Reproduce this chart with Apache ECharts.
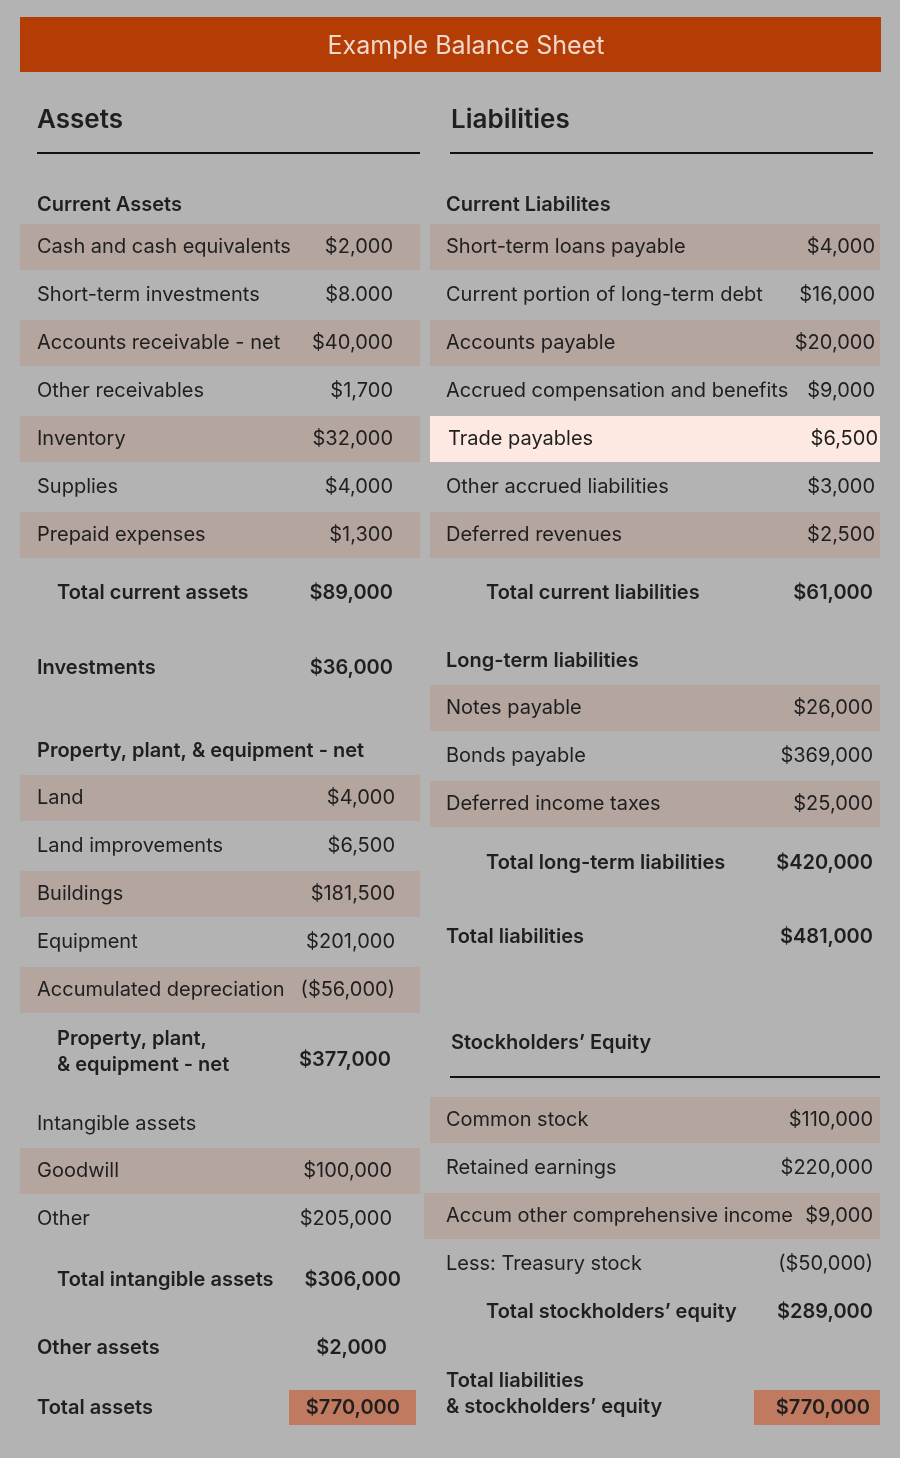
<!DOCTYPE html>
<html><head><meta charset="utf-8">
<script src="https://cdn.jsdelivr.net/npm/echarts@6/dist/echarts.min.js"></script>
<style>html,body{margin:0;background:#b3b3b3}#c{width:900px;height:1458px}</style>
</head><body><div id="c"></div>
<script>
const title = "Example Balance Sheet";
const currentAssetLabels = ["Cash and cash equivalents","Short-term investments","Accounts receivable - net","Other receivables","Inventory","Supplies","Prepaid expenses"];
const currentAssetValues = ["$2,000","$8.000","$40,000","$1,700","$32,000","$4,000","$1,300"];
const ppeLabels = ["Land","Land improvements","Buildings","Equipment","Accumulated depreciation"];
const ppeValues = ["$4,000","$6,500","$181,500","$201,000","($56,000)"];
const intangibleLabels = ["Goodwill","Other"];
const intangibleValues = ["$100,000","$205,000"];
const currentLiabLabels = ["Short-term loans payable","Current portion of long-term debt","Accounts payable","Accrued compensation and benefits","Trade payables","Other accrued liabilities","Deferred revenues"];
const currentLiabValues = ["$4,000","$16,000","$20,000","$9,000","$6,500","$3,000","$2,500"];
const longLiabLabels = ["Notes payable","Bonds payable","Deferred income taxes"];
const longLiabValues = ["$26,000","$369,000","$25,000"];
const equityLabels = ["Common stock","Retained earnings","Accum other comprehensive income","Less: Treasury stock"];
const equityValues = ["$110,000","$220,000","$9,000","($50,000)"];

const F = "Inter, 'Noto Sans', sans-serif";
const TXT = "#1f1f1f", STRIPE = "#b4a59f", BOX = "#bf7a5f";
const g = [];
function rect(x,y,w,h,fill){g.push({type:'rect',shape:{x,y,width:w,height:h},style:{fill}});}
function line(x1,x2,y){g.push({type:'line',shape:{x1,y1:y,x2,y2:y},style:{stroke:'#111',lineWidth:2}});}
function text(s,x,y,o={}){g.push({type:'text',x,y,style:{text:s,fill:o.fill||TXT,font:(o.bold?'600 ':'400 ')+(o.size||20)+'px '+F,textAlign:o.align||'left',textVerticalAlign:'middle',lineHeight:o.lh||26}});}
function rows(labels,values,y0,x0,x1,tx,vx,hl){
  labels.forEach((l,i)=>{
    const y=y0+i*48;
    if(hl&&hl[i]) rect(hl[i][0],y-23,hl[i][1]-hl[i][0],46,hl[i][2]);
    else if(i%2===0) rect(x0,y-23,x1-x0,46,STRIPE);
    text(l,tx+(hl&&hl[i]&&hl[i][3]||0),y);
    text(values[i],vx+(hl&&hl[i]&&hl[i][4]||0),y,{align:'right'});
  });
}
// header
rect(20,17,861,55,'#b43d05');
text(title,466,46,{fill:'#f2d8cc',size:25,align:'center'});
// Assets
text("Assets",37,120,{bold:true,size:26});line(37,420,153);
text("Current Assets",37,205,{bold:true});
rows(currentAssetLabels,currentAssetValues,247,20,420,37,393);
text("Total current assets",57,593,{bold:true});text("$89,000",393,593,{bold:true,align:'right'});
text("Investments",37,668,{bold:true});text("$36,000",393,668,{bold:true,align:'right'});
text("Property, plant, & equipment - net",37,751,{bold:true});
rows(ppeLabels,ppeValues,798,20,420,37,395);
text("Property, plant,\n& equipment - net",57,1052,{bold:true});text("$377,000",391,1060,{bold:true,align:'right'});
text("Intangible assets",37,1124);
rows(intangibleLabels,intangibleValues,1171,20,420,37,392);
text("Total intangible assets",57,1280,{bold:true});text("$306,000",401,1280,{bold:true,align:'right'});
text("Other assets",37,1348,{bold:true});text("$2,000",387,1348,{bold:true,align:'right'});
text("Total assets",37,1408,{bold:true});rect(289,1390,127,35,BOX);text("$770,000",400,1408,{bold:true,align:'right'});
// Liabilities
text("Liabilities",451,120,{bold:true,size:26});line(450,873,153);
text("Current Liabilites",446,205,{bold:true});
rows(currentLiabLabels,currentLiabValues,247,430,880,446,875,{4:[430,880,'#fde9e2',2,3]});
text("Total current liabilities",486,593,{bold:true});text("$61,000",873,593,{bold:true,align:'right'});
text("Long-term liabilities",446,661,{bold:true});
rows(longLiabLabels,longLiabValues,708,430,880,446,873);
text("Total long-term liabilities",486,863,{bold:true});text("$420,000",873,863,{bold:true,align:'right'});
text("Total liabilities",446,937,{bold:true});text("$481,000",873,937,{bold:true,align:'right'});
text("Stockholders’ Equity",451,1043,{bold:true});line(450,880,1077);
rows(equityLabels,equityValues,1120,430,880,446,873,{2:[424,880,STRIPE,0,0]});
text("Total stockholders’ equity",486,1312,{bold:true});text("$289,000",873,1312,{bold:true,align:'right'});
text("Total liabilities\n& stockholders’ equity",446,1394,{bold:true});rect(754,1390,126,35,BOX);text("$770,000",870,1408,{bold:true,align:'right'});

const chart = echarts.init(document.getElementById('c'));
chart.setOption({backgroundColor:'#b3b3b3',graphic:{elements:g}});
</script></body></html>
